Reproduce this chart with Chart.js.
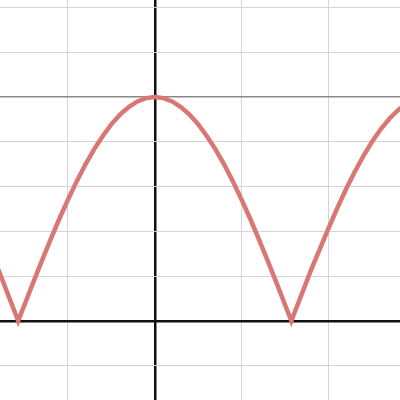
<!DOCTYPE html>
<html><head><meta charset="utf-8">
<script src="https://cdn.jsdelivr.net/npm/chart.js@4"></script>
<style>html,body{margin:0;padding:0;background:#fff}</style>
</head><body>
<canvas id="c" width="400" height="400"></canvas>
<script>
const xValues=[-1.8,-1.7,-1.6,-1.571,-1.5,-1.4,-1.3,-1.2,-1.1,-1.0,-0.9,-0.8,-0.7,-0.6,-0.5,-0.4,-0.3,-0.2,-0.1,0,0.1,0.2,0.3,0.4,0.5,0.6,0.7,0.8,0.9,1.0,1.1,1.2,1.3,1.4,1.5,1.571,1.6,1.7,1.8,1.9,2.0,2.1,2.2,2.3,2.4,2.5,2.6,2.7,2.8,2.9];
const yValues=[0.23,0.13,0.03,0,0.07,0.17,0.267,0.362,0.454,0.54,0.622,0.697,0.765,0.825,0.878,0.921,0.955,0.98,0.995,1,0.995,0.98,0.955,0.921,0.878,0.825,0.765,0.697,0.622,0.54,0.454,0.362,0.267,0.17,0.07,0,0.03,0.13,0.23,0.323,0.416,0.505,0.589,0.666,0.737,0.801,0.857,0.904,0.942,0.971];
const xTicks=[-1,0,1,2];
const yTicks=[-0.2,0,0.2,0.4,0.6,0.8,1,1.2,1.4];
const pts=xValues.map((x,i)=>({x:x,y:yValues[i]}));
new Chart(document.getElementById('c'),{
 type:'scatter',
 data:{datasets:[{data:pts,showLine:true,borderColor:'#d87774',borderWidth:4.5,pointRadius:0,tension:0}]},
 options:{responsive:false,animation:false,layout:{padding:0},
  plugins:{legend:{display:false},tooltip:{enabled:false}},
  scales:{
   x:{type:'linear',min:-1.78,max:2.82,
      afterBuildTicks:a=>{a.ticks=xTicks.map(v=>({value:v}));},
      ticks:{display:false},border:{display:false},
      grid:{drawTicks:false,color:c=>c.tick&&c.tick.value===0?'#111':'#d4d4d4',lineWidth:c=>c.tick&&c.tick.value===0?2.5:1}},
   y:{type:'linear',min:-0.353,max:1.433,
      afterBuildTicks:a=>{a.ticks=yTicks.map(v=>({value:v}));},
      ticks:{display:false},border:{display:false},
      grid:{drawTicks:false,color:c=>{const v=c.tick&&c.tick.value;return v===0?'#111':(v===1?'#888':'#d4d4d4');},lineWidth:c=>{const v=c.tick&&c.tick.value;return v===0?2.5:(v===1?1.5:1);}}}
  }}
});
</script>
</body></html>
